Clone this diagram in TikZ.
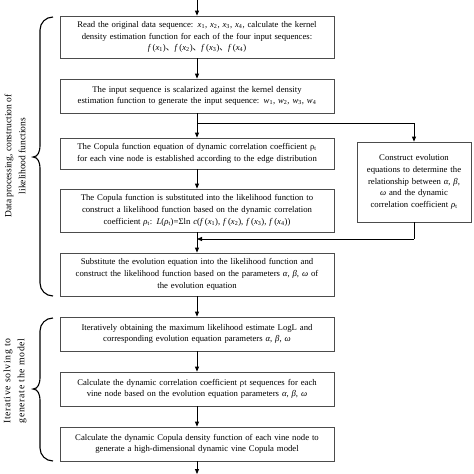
\documentclass[tikz,border=0pt]{standalone}
\usepackage{fontspec}
\setmainfont{Liberation Serif}
\newfontfamily\cjk{Noto Sans CJK SC}
\usetikzlibrary{arrows.meta}
\newcommand{\vx}[1]{\textit{x}\textsubscript{#1}}
\newcommand{\vw}[1]{\textit{w}\textsubscript{#1}}
\newcommand{\fx}[1]{\textit{f}\,(\vx{#1})}
\newcommand{\rt}{\textit{ρ}\textsubscript{t}}
\newcommand{\dun}{{\cjk 、}}
\begin{document}
\begin{tikzpicture}[x=1pt,y=-1pt,
  box/.style={draw=black!70,line width=0.8pt,fill=white,align=center,inner sep=2pt,
    font=\fontsize{8.7}{11.7}\selectfont},
  mainbox/.style={box,minimum width=274pt,text width=268pt},
  conn/.style={line width=0.8pt,-{Triangle[length=5pt,width=4pt]}},
  plain/.style={line width=0.8pt},
  brace/.style={line width=1.1pt},
  lbl/.style={rotate=90,align=center,font=\fontsize{9.5}{14}\selectfont}]
\useasboundingbox (0,0) rectangle (474,474);
\node[mainbox,minimum height=42pt] (b1) at (197,37) {Read the original data sequence: \vx1, \vx2, \vx3, \vx4, calculate the kernel\\ density estimation function for each of the four input sequences:\\ \fx1\dun\fx2\dun\fx3\dun\fx4};
\node[mainbox,minimum height=34pt] (b2) at (197,96) {The input sequence is scalarized against the kernel density\\ estimation function to generate the input sequence: \vw1, \vw2, \vw3, \vw4};
\node[mainbox,minimum height=31pt] (b3) at (197,153.5) {The Copula function equation of dynamic correlation coefficient ρ\textsubscript{t}\\ for each vine node is established according to the edge distribution};
\node[mainbox,minimum height=43pt] (b4) at (197,210.5) {The Copula function is substituted into the likelihood function to\\ construct a likelihood function based on the dynamic correlation\\ coefficient \rt: \textit{L}(\rt)=Σln \textit{c}(\fx1, \fx2, \fx3, \fx4)};
\node[mainbox,minimum height=43pt] (b5) at (197,274.5) {Substitute the evolution equation into the likelihood function and\\ construct the likelihood function based on the parameters \textit{α}, \textit{β}, \textit{ω} of\\ the evolution equation};
\node[mainbox,minimum height=34pt] (b6) at (197,334) {Iteratively obtaining the maximum likelihood estimate LogL and\\ corresponding evolution equation parameters \textit{α}, \textit{β}, \textit{ω}};
\node[mainbox,minimum height=34pt] (b7) at (197,389) {Calculate the dynamic correlation coefficient ρt sequences for each\\ vine node based on the evolution equation parameters \textit{α}, \textit{β}, \textit{ω}};
\node[mainbox,minimum height=34pt] (b8) at (197,444) {Calculate the dynamic Copula density function of each vine node to\\ generate a high-dimensional dynamic vine Copula model};
\node[box,minimum width=114pt,text width=110pt,minimum height=80pt] (r) at (414,182) {Construct evolution\\ equations to determine the\\ relationship between \textit{α}, \textit{β},\\ \textit{ω} and the dynamic\\ correlation coefficient \rt};
\coordinate (top) at (197,0);
\coordinate (bot) at (197,474);
\coordinate (split) at (197,123);
\coordinate (rturn) at (414,239);
\coordinate (join) at (197,239);
\draw[conn] (top) -- (b1);
\draw[conn] (b1) -- (b2);
\draw[conn] (b2) -- (b3);
\draw[conn] (split) -| (r.north);
\draw[conn] (b3) -- (b4);
\draw[conn] (b4) -- (b5);
\draw[plain] (r.south) -- (rturn);
\draw[conn] (rturn) -- (join);
\draw[conn] (b5) -- (b6);
\draw[conn] (b6) -- (b7);
\draw[conn] (b7) -- (b8);
\draw[conn] (b8) -- (bot);
\draw[brace] (53,17) to[out=180,in=90] (40,30) -- (40,146) to[out=-90,in=0] (33,157) to[out=0,in=90] (40,168) -- (40,283) to[out=-90,in=180] (53,296);
\draw[brace] (53,318) to[out=180,in=90] (40,331) -- (40,378) to[out=-90,in=0] (33,389) to[out=0,in=90] (40,400) -- (40,448) to[out=-90,in=180] (53,461);
\node[lbl] (l1) at (15,156) {Data processing, construction of\\ likelihood functions};
\node[lbl,font=\fontsize{9.8}{14}\selectfont] (l2) at (15,381) {\addfontfeature{LetterSpace=7}Iterative solving to\\ \addfontfeature{LetterSpace=7}generate the model};
\end{tikzpicture}
\end{document}
